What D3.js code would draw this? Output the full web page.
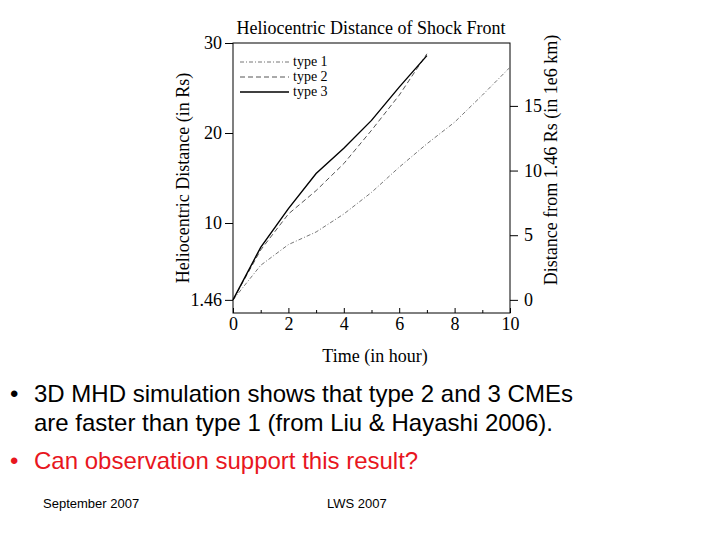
<!DOCTYPE html>
<html lang="en">
<head>
<meta charset="UTF-8">
<script src="https://d3js.org/d3.v7.min.js"></script>
<style>
  body { margin: 0; background: #fff; }
  svg text { font-family: 'Liberation Serif', serif; }
  .bul { font-family: 'Liberation Sans', Arial, sans-serif; font-size: 24px; }
  .foot { font-family: 'Liberation Sans', Arial, sans-serif; font-size: 13px; }
</style>
</head>
<body>
<svg id="chart" width="720" height="540"></svg>
<script>
// hours
var hours = [0, 1, 2, 3, 4, 5, 6, 7, 8, 9, 10];
// heliocentric distance in Rs
var type1 = [1.46, 5.3, 7.6, 9.0, 11.0, 13.4, 16.2, 18.8, 21.2, 24.2, 27.3];
var type2 = [1.46, 7.0, 11.0, 13.6, 16.6, 20.3, 24.2, 28.8];
var type3 = [1.46, 7.3, 11.6, 15.5, 18.3, 21.4, 25.1, 28.6];
var leftTicks = [1.46, 10, 20, 30];
var rightTicks = [0, 5, 10, 15];
var seriesNames = ["type 1", "type 2", "type 3"];
var dashes = ["4,2,1,2", "5,3", null];
var strokeCol = ["#777", "#555", "#000"];

var svg = d3.select("#chart");
var x = d3.scaleLinear().domain([0, 10]).range([233, 510]);
var y = d3.scaleLinear().domain([0, 30]).range([313, 43]);
var rsKm = 0.696; // 1 Rs in 1e6 km
var y2 = d3.scaleLinear().domain([-1.46 * rsKm, (30 - 1.46) * rsKm]).range([313, 43]);

svg.append("rect").attr("x", 233).attr("y", 43).attr("width", 277).attr("height", 270)
  .attr("fill", "none").attr("stroke", "#000");

svg.append("g").attr("transform", "translate(0,313)")
  .call(d3.axisBottom(x).tickValues([0, 2, 4, 6, 8, 10]).tickSize(-5).tickPadding(4));
svg.append("g").attr("transform", "translate(0,313)")
  .call(d3.axisBottom(x).tickValues(d3.range(1, 10, 2)).tickSize(-3).tickFormat(""));
svg.append("g").attr("transform", "translate(233,0)")
  .call(d3.axisLeft(y).tickValues(leftTicks).tickFormat(function(d){ return d; }).tickSize(8).tickPadding(3));
svg.append("g").attr("transform", "translate(510,0)")
  .call(d3.axisRight(y2).tickValues(rightTicks).tickSize(8).tickPadding(6));
svg.selectAll(".domain").remove();
svg.selectAll(".tick text").style("font-size", "18px").attr("fill", "#000")
  .style("font-family", "'Liberation Serif', serif");
svg.selectAll(".tick line").attr("stroke", "#000");

var line = d3.line().x(function(d, i){ return x(hours[i]); }).y(function(d){ return y(d); });
[type1, type2, type3].forEach(function(s, k) {
  svg.append("path").datum(s).attr("d", line).attr("fill", "none")
    .attr("stroke", strokeCol[k]).attr("stroke-width", k == 2 ? 1.4 : 1)
    .attr("stroke-dasharray", dashes[k]);
});

// legend
seriesNames.forEach(function(n, k) {
  var ly = 62 + k * 15;
  svg.append("line").attr("x1", 240).attr("x2", 289).attr("y1", ly).attr("y2", ly)
    .attr("stroke", strokeCol[k]).attr("stroke-width", k == 2 ? 1.4 : 1).attr("stroke-dasharray", dashes[k]);
  svg.append("text").attr("x", 293).attr("y", ly + 4).style("font-size", "14px").text(n);
});

svg.append("text").attr("x", 371).attr("y", 34).attr("text-anchor", "middle").style("font-size", "18px")
  .text("Heliocentric Distance of Shock Front");
svg.append("text").attr("x", 375).attr("y", 362).attr("text-anchor", "middle").style("font-size", "18px")
  .text("Time (in hour)");
svg.append("text").attr("transform", "translate(189,178) rotate(-90)").attr("text-anchor", "middle")
  .style("font-size", "18px").text("Heliocentric Distance (in Rs)");
svg.append("text").attr("transform", "translate(557,160) rotate(-90)").attr("text-anchor", "middle")
  .style("font-size", "18px").text("Distance from 1.46 Rs (in 1e6 km)");

// bullets
var bullets = [
  { t: ["3D MHD simulation shows that type 2 and 3 CMEs", "are faster than type 1 (from Liu & Hayashi 2006)."], c: "#000", y: 402 },
  { t: ["Can observation support this result?"], c: "#e8161e", y: 469 }
];
bullets.forEach(function(b) {
  svg.append("text").attr("class", "bul").attr("x", 10).attr("y", b.y).attr("fill", b.c).text("•");
  b.t.forEach(function(s, i) {
    svg.append("text").attr("class", "bul").attr("x", 34).attr("y", b.y + i * 29).attr("fill", b.c).text(s);
  });
});
svg.append("text").attr("class", "foot").attr("x", 43).attr("y", 508).text("September 2007");
svg.append("text").attr("class", "foot").attr("x", 327).attr("y", 508).text("LWS 2007");
</script>
</body>
</html>
